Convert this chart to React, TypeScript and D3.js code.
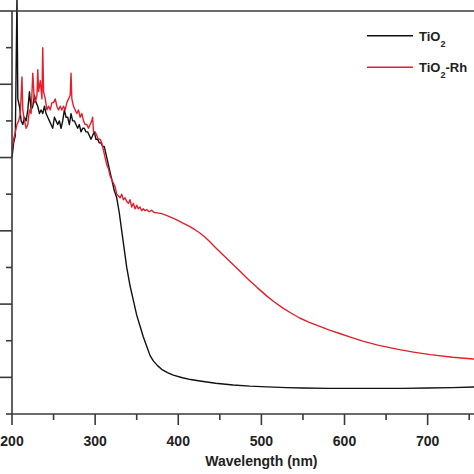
import * as d3 from 'd3';
import { useEffect, useRef } from 'react';

// TiO2 spectrum (nm / absorbance)
const tioWave = [
  200, 202, 204, 206, 207, 209, 211, 213, 215, 217, 219, 221, 223, 225, 227, 229, 231, 233, 235, 237,
  239, 241, 243, 245, 247, 249, 251, 253, 255, 257, 259, 261, 263, 265, 267, 269, 271, 273, 275, 277,
  279, 281, 283, 285, 287, 289, 291, 293, 295, 297, 299, 301, 303, 305, 307, 309, 311, 313, 315, 317,
  319, 321, 323, 326, 329, 332, 335, 338, 342, 346, 350, 354, 358, 362, 366, 370, 375, 380, 387, 394,
  405, 415, 426, 445, 466, 486, 507, 530, 550, 580, 610, 640, 670, 700, 730, 760, 800,
];
const tioAbs = [
  0.70, 0.74, 0.76, 1.14, 0.86, 0.84, 0.80, 0.79, 0.81, 0.80, 0.83, 0.88, 0.83, 0.84, 0.87, 0.85, 0.84, 0.82, 0.83, 0.82,
  0.84, 0.82, 0.81, 0.80, 0.79, 0.78, 0.81, 0.80, 0.79, 0.80, 0.78, 0.80, 0.83, 0.81, 0.81, 0.79, 0.82, 0.80, 0.80, 0.79,
  0.78, 0.79, 0.77, 0.78, 0.78, 0.77, 0.77, 0.76, 0.75, 0.76, 0.77, 0.75, 0.75, 0.74, 0.74, 0.73, 0.73, 0.71, 0.69, 0.67,
  0.65, 0.63, 0.61, 0.59, 0.55, 0.50, 0.45, 0.40, 0.35, 0.31, 0.27, 0.24, 0.21, 0.185, 0.16, 0.145, 0.132, 0.122, 0.113, 0.106,
  0.099, 0.094, 0.090, 0.084, 0.079, 0.076, 0.074, 0.072, 0.071, 0.070, 0.070, 0.070, 0.070, 0.071, 0.072, 0.074, 0.075,
];

// TiO2-Rh spectrum
const rhWave = [
  200, 202, 204, 206, 208, 210, 212, 213, 215, 217, 219, 221, 223, 225, 227, 229, 230, 231, 232, 234,
  236, 237, 238, 240, 242, 244, 246, 248, 250, 252, 254, 256, 258, 260, 262, 264, 266, 268, 270, 271,
  272, 274, 276, 278, 280, 282, 284, 286, 288, 290, 292, 294, 296, 297, 298, 300, 302, 304, 306, 308,
  310, 312, 314, 316, 318, 320, 322, 324, 326, 328, 330, 332, 334, 336, 338, 340, 342, 344, 346, 348,
  350, 352, 354, 356, 358, 360, 362, 365, 368, 371, 375, 380, 385, 390, 395, 400, 405, 410, 415, 420,
  426, 432, 438, 445, 454, 464, 474, 485, 495, 507, 516, 526, 536, 546, 557, 567, 582, 595, 607, 622,
  640, 663, 683, 703, 730, 755, 780, 800,
];
const rhAbs = [
  0.72, 0.75, 0.77, 0.79, 0.80, 0.82, 0.92, 0.83, 0.80, 0.78, 0.79, 0.83, 0.82, 0.93, 0.85, 0.86, 0.87, 0.94, 0.88, 0.91,
  0.86, 1.00, 0.88, 0.86, 0.83, 0.84, 0.83, 0.85, 0.85, 0.86, 0.84, 0.83, 0.84, 0.83, 0.84, 0.83, 0.85, 0.86, 0.87, 0.93,
  0.86, 0.84, 0.83, 0.82, 0.83, 0.81, 0.82, 0.80, 0.79, 0.79, 0.78, 0.79, 0.80, 0.81, 0.77, 0.77, 0.76, 0.75, 0.75, 0.74,
  0.72, 0.70, 0.68, 0.67, 0.65, 0.64, 0.63, 0.62, 0.60, 0.595, 0.59, 0.60, 0.585, 0.59, 0.58, 0.575, 0.585, 0.565, 0.575, 0.56,
  0.57, 0.56, 0.565, 0.555, 0.56, 0.555, 0.558, 0.552, 0.556, 0.55, 0.549, 0.547, 0.543, 0.538, 0.533, 0.528, 0.522, 0.516, 0.510, 0.503,
  0.494, 0.483, 0.470, 0.454, 0.434, 0.412, 0.390, 0.366, 0.345, 0.321, 0.305, 0.289, 0.275, 0.262, 0.251, 0.242, 0.229, 0.219, 0.210, 0.199,
  0.188, 0.177, 0.169, 0.162, 0.155, 0.150, 0.146, 0.143,
];

const xMajor = [200, 300, 400, 500, 600, 700, 800];
const xMinor = [250, 350, 450, 550, 650, 750];
const xLabels = [200, 300, 400, 500, 600, 700];
const yMajor = [0.1, 0.3, 0.5, 0.7, 0.9, 1.1];
const yMinor = [0.0, 0.2, 0.4, 0.6, 0.8, 1.0];

const series = [
  { name: 'TiO', sub: '2', suffix: '', wave: tioWave, abs: tioAbs, color: '#111111' },
  { name: 'TiO', sub: '2', suffix: '-Rh', wave: rhWave, abs: rhAbs, color: '#e41f2b' },
];

const App = () => {
  const svgRef = useRef(null);

  useEffect(() => {
    const width = 474;
    const height = 474;
    const left = 12;
    const top = 11;
    const bottom = 414;
    const axisColor = '#3a3a3a';
    const font = '"Liberation Sans", Arial, sans-serif';

    const svg = d3.select(svgRef.current);
    svg.selectAll('*').remove();
    svg.attr('width', width).attr('height', height);

    const x = d3.scaleLinear().domain([200, 800]).range([left, left + 6 * 83.13]);
    const y = d3.scaleLinear().domain([0, 1.1]).range([bottom, top]);

    svg.append('rect').attr('width', width).attr('height', height).attr('fill', '#fff');

    // curves
    const line = d3
      .line<[number, number]>()
      .x((d) => x(d[0]))
      .y((d) => y(d[1]));

    series.forEach((s) => {
      const pts = s.wave.map((w, i) => [w, s.abs[i]] as [number, number]);
      svg.append('path')
        .datum(pts)
        .attr('fill', 'none')
        .attr('stroke', s.color)
        .attr('stroke-width', 1.4)
        .attr('stroke-linejoin', 'round')
        .attr('d', line);
    });

    // frame
    const axes = svg.append('g').attr('stroke', axisColor).attr('stroke-width', 1.6);
    axes.append('line').attr('x1', left).attr('x2', width).attr('y1', bottom).attr('y2', bottom);
    axes.append('line').attr('x1', left).attr('x2', width).attr('y1', top).attr('y2', top);
    axes.append('line').attr('x1', left).attr('x2', left).attr('y1', top).attr('y2', bottom);

    // x ticks
    xMajor.forEach((v) => {
      axes.append('line').attr('x1', x(v)).attr('x2', x(v)).attr('y1', bottom).attr('y2', bottom + 11);
    });
    xMinor.forEach((v) => {
      axes.append('line').attr('x1', x(v)).attr('x2', x(v)).attr('y1', bottom).attr('y2', bottom + 6);
    });

    // y ticks (labels sit off the left edge)
    yMajor.forEach((v) => {
      axes.append('line').attr('x1', left - 12).attr('x2', left).attr('y1', y(v)).attr('y2', y(v));
    });
    yMinor.forEach((v) => {
      axes.append('line').attr('x1', left - 6).attr('x2', left).attr('y1', y(v)).attr('y2', y(v));
    });

    svg.append('g')
      .selectAll('text')
      .data(xLabels)
      .enter()
      .append('text')
      .attr('x', (d) => x(d))
      .attr('y', bottom + 32)
      .attr('text-anchor', 'middle')
      .style('font-family', font)
      .style('font-weight', 'bold')
      .style('font-size', '14px')
      .attr('fill', '#222')
      .text((d) => d);

    svg.append('text')
      .attr('x', x(500))
      .attr('y', 466)
      .attr('text-anchor', 'middle')
      .style('font-family', font)
      .style('font-weight', 'bold')
      .style('font-size', '14px')
      .attr('fill', '#222')
      .text('Wavelength (nm)');

    // legend
    series.forEach((s, i) => {
      const ly = 35.7 + i * 31.6;
      svg.append('line')
        .attr('x1', 367)
        .attr('x2', 413)
        .attr('y1', ly)
        .attr('y2', ly)
        .attr('stroke', s.color)
        .attr('stroke-width', 1.6);
      const t = svg.append('text')
        .attr('x', 419)
        .attr('y', ly + 4.8)
        .style('font-family', font)
        .style('font-weight', 'bold')
        .style('font-size', '13px')
        .attr('fill', '#222');
      t.append('tspan').text(s.name);
      t.append('tspan').attr('dy', 6).style('font-size', '9px').text(s.sub);
      t.append('tspan').attr('dy', -6).text(s.suffix);
    });
  }, []);

  return <svg ref={svgRef} style={{ position: 'absolute', left: 0, top: 0, display: 'block' }} />;
};

export default App;
